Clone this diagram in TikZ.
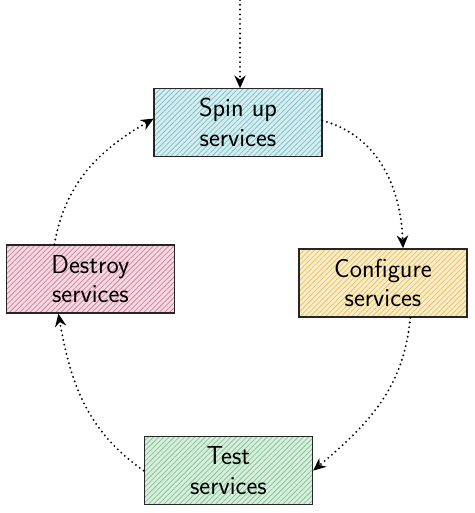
\documentclass[tikz,border=0pt]{standalone}
\usepackage{tikz}
\usetikzlibrary{patterns.meta,arrows.meta}

\definecolor{spinblue}{RGB}{120,196,204}
\definecolor{cfgyellow}{RGB}{236,196,92}
\definecolor{destpink}{RGB}{214,130,160}
\definecolor{testgreen}{RGB}{130,200,145}

\tikzset{
	stage/.style={draw=black!85,line width=1.1pt,minimum width=4.2cm,minimum height=1.7cm,align=center,
		font=\sffamily\fontsize{18.5}{21}\selectfont},
	hatch/.style={preaction={fill=#1!30},pattern={Lines[angle=45,distance=2.6pt,line width=0.55pt]},pattern color=#1},
	flow/.style={->,>={Stealth[length=9pt,width=8pt]},line width=1.5pt,dash pattern=on 0pt off 3.4pt,line cap=round},
}

\begin{document}
\begin{tikzpicture}
	\useasboundingbox (0,0) rectangle (11.85,12.825);
	
	%the four stages
	\node[stage,hatch=spinblue] (spin) at (5.95,9.76) {Spin up\\services};
	\node[stage,hatch=cfgyellow] (cfg) at (9.575,5.75) {Configure\\services};
	\node[stage,hatch=testgreen] (test) at (5.71,1.06) {Test\\services};
	\node[stage,hatch=destpink] (dest) at (2.26,5.85) {Destroy\\services};
	
	\coordinate (start) at (6.0,12.825);
	
	%cycle
	\draw[flow] (start) -- (start |- spin.north);
	\draw[flow] ([yshift=0.05cm]spin.east) to[out=-15,in=92] ([xshift=0.5cm]cfg.north);
	\draw[flow] ([xshift=0.68cm]cfg.south) to[out=-95,in=40] (test.east);
	\draw[flow] (test.west) to[out=145,in=-80] ([xshift=-0.8cm]dest.south);
	\draw[flow] ([xshift=-0.9cm]dest.north) to[out=80,in=210] ([yshift=0.1cm]spin.west);
\end{tikzpicture}
\end{document}
